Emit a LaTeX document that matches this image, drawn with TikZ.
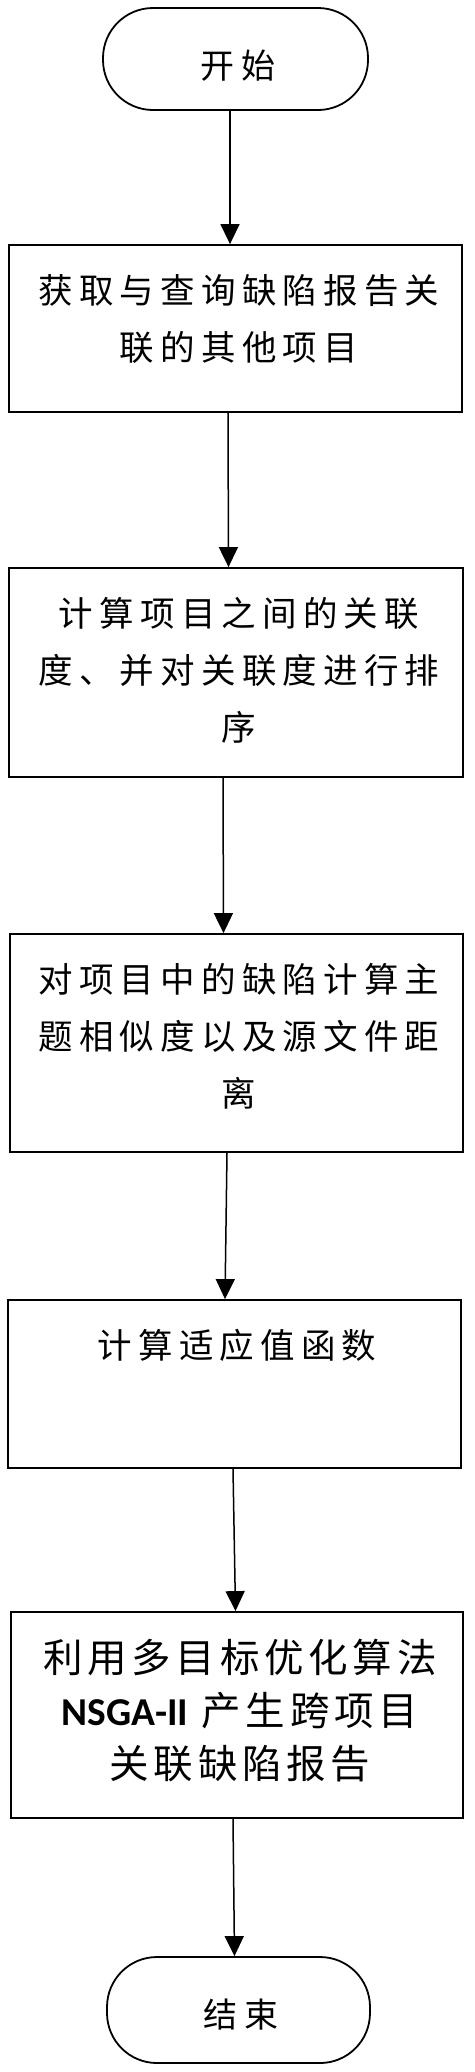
\documentclass[tikz,border=0pt]{standalone}
\usepackage{fontspec}
\newfontfamily\cjk[LetterSpace=18]{Noto Sans CJK SC}
\newfontfamily\cjkb[LetterSpace=12]{Noto Sans CJK SC}
\newfontfamily\lat{Carlito}
\usetikzlibrary{arrows.meta}
\begin{document}
\begin{tikzpicture}[x=1pt,y=-1pt,
  box/.style={draw, line width=1.8pt, rectangle, inner sep=0pt},
  term/.style={draw, line width=1.8pt, rectangle, rounded corners=50pt, inner sep=0pt},
  txt/.style={font=\cjk\fontsize{34.5}{57}\selectfont, align=center, anchor=north, inner sep=0pt},
  lbl/.style={font=\cjk\fontsize{34}{40}\selectfont, inner sep=0pt},
  arr/.style={line width=1.5pt, -{Triangle[width=19pt,length=20pt]}}]
\useasboundingbox (0,0) rectangle (474,2072);
\fill[white] (0,0) rectangle (474,2072);

\node[term, minimum width=265pt, minimum height=102pt] (start) at (235.5,59) {};
\node[lbl] (starttxt) at (238,66) {开始};

\node[box, minimum width=453pt, minimum height=167pt] (b1) at (235.5,328.5) {};
\node[txt] (t1) at (239,274) {获取与查询缺陷报告关\\联的其他项目};

\node[box, minimum width=454pt, minimum height=209pt] (b2) at (236,672.5) {};
\node[txt] (t2) at (239,597) {计算项目之间的关联\\度、并对关联度进行排\\序};

\node[box, minimum width=453pt, minimum height=218pt] (b3) at (236.5,1043) {};
\node[txt] (t3) at (239,963) {对项目中的缺陷计算主\\题相似度以及源文件距\\离};

\node[box, minimum width=453pt, minimum height=168pt] (b4) at (234.5,1384) {};
\node[txt] (t4) at (237,1329) {计算适应值函数};

\node[box, minimum width=452pt, minimum height=206pt] (b5) at (237,1715) {};
\node[txt, font=\cjkb\fontsize{39.5}{53}\selectfont] (t5) at (240,1639) {利用多目标优化算法\\{\lat\bfseries NSGA-II} 产生跨项目\\关联缺陷报告};

\node[term, minimum width=263pt, minimum height=106pt] (end) at (238.5,2010) {};
\node[lbl] (endtxt) at (241,2015) {结束};

\draw[arr] ([xshift=-5.5pt]start.south) -- ([xshift=-5.5pt]b1.north);
\draw[arr] ([xshift=-7.5pt]b1.south) -- ([xshift=-7.5pt]b2.north);
\draw[arr] ([xshift=-13pt]b2.south) -- ([xshift=-13pt]b3.north);
\draw[arr] ([xshift=-9.5pt]b3.south) -- ([xshift=-9.5pt]b4.north);
\draw[arr] ([xshift=-1.5pt]b4.south) -- ([xshift=-1.5pt]b5.north);
\draw[arr] ([xshift=-4pt]b5.south) -- ([xshift=-4pt]end.north);
\end{tikzpicture}
\end{document}
